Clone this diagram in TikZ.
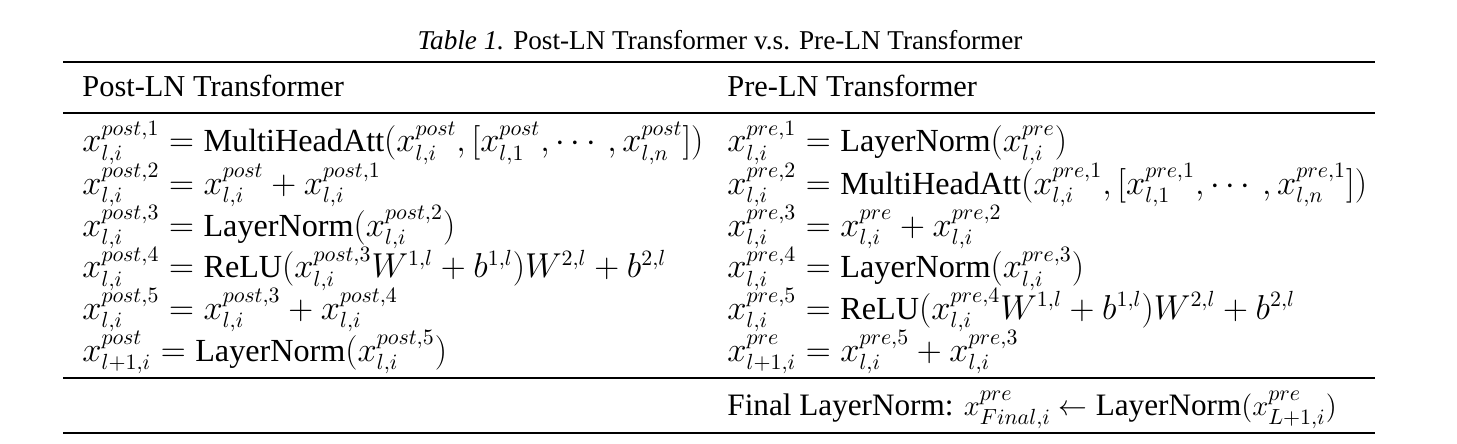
\documentclass[tikz,border=0pt]{standalone}
\usepackage{amsmath}
\usepackage{fontspec}
\setmainfont{Liberation Serif}
\begin{document}
\begin{tikzpicture}[x=0.5pt,y=-0.5pt,
  txt/.style={anchor=base west,inner sep=0pt,font=\fontsize{15.2}{18}\selectfont},
  eq/.style={anchor=base west,inner sep=0pt,font=\fontsize{16.1}{19}\selectfont},
  thick rule/.style={line width=1pt},
  thin rule/.style={line width=0.55pt}]
\useasboundingbox (0,0) rectangle (1457,444);
\node[anchor=base,inner sep=0pt,font=\fontsize{13.6}{16}\selectfont] (title) at (720,50) {\textit{Table 1.} Post-LN Transformer v.s. Pre-LN Transformer};
\draw[thick rule] (63,62) -- (1375,62);
\draw[thin rule] (63,113) -- (1375,113);
\draw[thin rule] (63,378) -- (1375,378);
\draw[thick rule] (63,433) -- (1375,433);
\node[txt] (h1) at (82,97) {Post-LN Transformer};
\node[txt] (h2) at (727,97) {Pre-LN Transformer};
\node[eq] (a1) at (82,152) {$x_{l,i}^{post,1}=\mathrm{MultiHeadAtt}(x_{l,i}^{post},[x_{l,1}^{post},\cdots,x_{l,n}^{post}])$};
\node[eq] (a2) at (82,194) {$x_{l,i}^{post,2}=x_{l,i}^{post}+x_{l,i}^{post,1}$};
\node[eq] (a3) at (82,236) {$x_{l,i}^{post,3}=\mathrm{LayerNorm}(x_{l,i}^{post,2})$};
\node[eq] (a4) at (82,278) {$x_{l,i}^{post,4}=\mathrm{ReLU}(x_{l,i}^{post,3}W^{1,l}+b^{1,l})W^{2,l}+b^{2,l}$};
\node[eq] (a5) at (82,319) {$x_{l,i}^{post,5}=x_{l,i}^{post,3}+x_{l,i}^{post,4}$};
\node[eq] (a6) at (82,361) {$x_{l+1,i}^{post}=\mathrm{LayerNorm}(x_{l,i}^{post,5})$};
\node[eq] (b1) at (727,152) {$x_{l,i}^{pre,1}=\mathrm{LayerNorm}(x_{l,i}^{pre})$};
\node[eq] (b2) at (727,194) {$x_{l,i}^{pre,2}=\mathrm{MultiHeadAtt}(x_{l,i}^{pre,1},[x_{l,1}^{pre,1},\cdots,x_{l,n}^{pre,1}])$};
\node[eq] (b3) at (727,236) {$x_{l,i}^{pre,3}=x_{l,i}^{pre}+x_{l,i}^{pre,2}$};
\node[eq] (b4) at (727,278) {$x_{l,i}^{pre,4}=\mathrm{LayerNorm}(x_{l,i}^{pre,3})$};
\node[eq] (b5) at (727,319) {$x_{l,i}^{pre,5}=\mathrm{ReLU}(x_{l,i}^{pre,4}W^{1,l}+b^{1,l})W^{2,l}+b^{2,l}$};
\node[eq] (b6) at (727,361) {$x_{l+1,i}^{pre}=x_{l,i}^{pre,5}+x_{l,i}^{pre,3}$};
\node[eq,font=\fontsize{15.6}{19}\selectfont] (f) at (727,415) {Final LayerNorm: $x_{Final,i}^{pre}\leftarrow\mathrm{LayerNorm}(x_{L+1,i}^{pre})$};
\end{tikzpicture}
\end{document}
